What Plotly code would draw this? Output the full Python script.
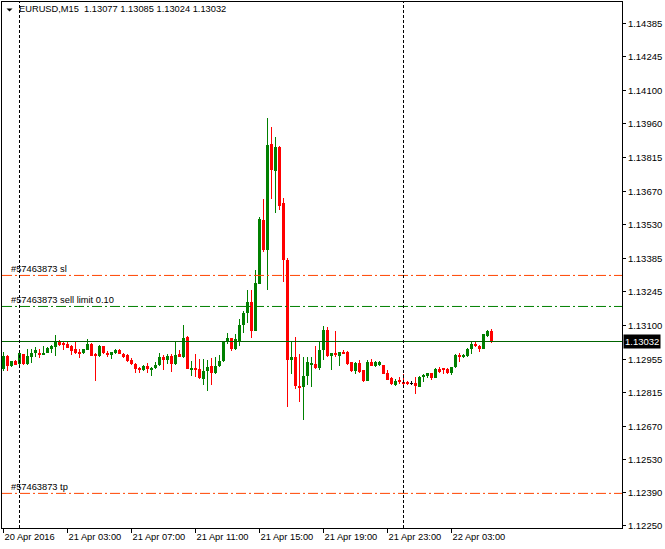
import numpy as np
import pandas as pd
import plotly.graph_objects as go

# ---------------- data (EURUSD, M15) ----------------
symbol_title = "EURUSD,M15"
start_time = "2016-04-20 23:00"

opens = [1.12916, 1.12972, 1.12927, 1.12951, 1.12935, 1.12977, 1.12935, 1.12968, 1.12982, 1.12985,
         1.12978, 1.12982, 1.13004, 1.13008, 1.13036, 1.13023, 1.13023, 1.13012, 1.12998, 1.12985,
         1.12981, 1.12995, 1.13023, 1.12977, 1.12969, 1.13011, 1.12985, 1.12974, 1.12982, 1.12995,
         1.12978, 1.12974, 1.12952, 1.12938, 1.12918, 1.12910, 1.12926, 1.12914, 1.12918, 1.12930,
         1.12964, 1.12952, 1.12969, 1.12935, 1.12977, 1.12965, 1.13050, 1.12913, 1.12920, 1.12917,
         1.12873, 1.12906, 1.12926, 1.12896, 1.12927, 1.12947, 1.13029, 1.13045, 1.13002, 1.13036,
         1.13104, 1.13154, 1.13202, 1.13076, 1.13276, 1.13547, 1.13420, 1.13874, 1.13756, 1.13861,
         1.13619, 1.13377, 1.12952, 1.12968, 1.12842, 1.12838, 1.12884, 1.12935, 1.12938, 1.12921,
         1.12994, 1.13079, 1.12969, 1.12980, 1.12969, 1.12989, 1.12989, 1.12944, 1.12906, 1.12941,
         1.12909, 1.12866, 1.12943, 1.12927, 1.12930, 1.12930, 1.12897, 1.12875, 1.12848, 1.12870,
         1.12858, 1.12858, 1.12852, 1.12855, 1.12839, 1.12884, 1.12884, 1.12897, 1.12878, 1.12917,
         1.12918, 1.12914, 1.12896, 1.12923, 1.12974, 1.12965, 1.12969, 1.12999, 1.13023, 1.13015,
         1.12999, 1.13055, 1.13077]

highs = [1.12989, 1.12974, 1.12951, 1.12953, 1.12985, 1.12978, 1.13001, 1.13002, 1.13008, 1.12998,
         1.13014, 1.13009, 1.13019, 1.13058, 1.13039, 1.13029, 1.13033, 1.13019, 1.13028, 1.13002,
         1.13002, 1.13041, 1.13026, 1.12984, 1.13016, 1.13011, 1.12991, 1.12989, 1.12998, 1.12998,
         1.12985, 1.12980, 1.12961, 1.12941, 1.12923, 1.12934, 1.12941, 1.12923, 1.12946, 1.12981,
         1.12975, 1.12980, 1.12977, 1.13036, 1.12995, 1.13103, 1.13055, 1.12951, 1.12977, 1.12958,
         1.12957, 1.12954, 1.12960, 1.12964, 1.12975, 1.13033, 1.13069, 1.13046, 1.13065, 1.13127,
         1.13161, 1.13249, 1.13253, 1.13338, 1.13561, 1.13636, 1.13982, 1.13946, 1.13900, 1.13863,
         1.13644, 1.13389, 1.13032, 1.13053, 1.12977, 1.12967, 1.12968, 1.12968, 1.13011, 1.13031,
         1.13100, 1.13092, 1.12981, 1.13075, 1.12989, 1.12994, 1.12992, 1.12944, 1.12944, 1.12954,
         1.12912, 1.12954, 1.12958, 1.12947, 1.12951, 1.12933, 1.12912, 1.12880, 1.12873, 1.12880,
         1.12895, 1.12862, 1.12862, 1.12879, 1.12886, 1.12892, 1.12897, 1.12900, 1.12921, 1.12923,
         1.12921, 1.12918, 1.12923, 1.12980, 1.12981, 1.12977, 1.13005, 1.13028, 1.13028, 1.13019,
         1.13066, 1.13080, 1.13085]

lows = [1.12906, 1.12906, 1.12923, 1.12931, 1.12933, 1.12931, 1.12931, 1.12940, 1.12965, 1.12961,
        1.12978, 1.12982, 1.12985, 1.12969, 1.13012, 1.12997, 1.13006, 1.12974, 1.12978, 1.12961,
        1.12978, 1.12994, 1.12969, 1.12863, 1.12968, 1.12978, 1.12968, 1.12957, 1.12980, 1.12977,
        1.12963, 1.12946, 1.12933, 1.12900, 1.12899, 1.12906, 1.12899, 1.12884, 1.12916, 1.12927,
        1.12909, 1.12937, 1.12901, 1.12934, 1.12964, 1.12963, 1.12916, 1.12884, 1.12880, 1.12872,
        1.12845, 1.12822, 1.12848, 1.12893, 1.12924, 1.12944, 1.13022, 1.12991, 1.12997, 1.13012,
        1.13069, 1.13110, 1.13046, 1.13076, 1.13276, 1.13412, 1.13250, 1.13636, 1.13578, 1.13593,
        1.13284, 1.12753, 1.12893, 1.12829, 1.12774, 1.12699, 1.12849, 1.12838, 1.12917, 1.12912,
        1.12952, 1.12965, 1.12912, 1.12965, 1.12927, 1.12977, 1.12934, 1.12901, 1.12895, 1.12897,
        1.12858, 1.12866, 1.12926, 1.12923, 1.12926, 1.12892, 1.12869, 1.12848, 1.12844, 1.12850,
        1.12833, 1.12848, 1.12846, 1.12807, 1.12838, 1.12858, 1.12875, 1.12870, 1.12876, 1.12897,
        1.12895, 1.12892, 1.12890, 1.12920, 1.12944, 1.12963, 1.12968, 1.12980, 1.13009, 1.12986,
        1.12998, 1.13052, 1.13024]

closes = [1.12972, 1.12927, 1.12951, 1.12931, 1.12981, 1.12935, 1.12969, 1.12985, 1.12994, 1.12978,
          1.12985, 1.13005, 1.13012, 1.13036, 1.13019, 1.13021, 1.13006, 1.12992, 1.12981, 1.12981,
          1.12999, 1.13023, 1.12969, 1.12974, 1.13012, 1.12981, 1.12974, 1.12986, 1.12995, 1.12980,
          1.12965, 1.12948, 1.12935, 1.12914, 1.12909, 1.12926, 1.12913, 1.12920, 1.12934, 1.12968,
          1.12952, 1.12969, 1.12935, 1.12975, 1.12968, 1.13048, 1.12917, 1.12920, 1.12913, 1.12875,
          1.12907, 1.12924, 1.12896, 1.12929, 1.12950, 1.13031, 1.13046, 1.12999, 1.13041, 1.13104,
          1.13155, 1.13202, 1.13076, 1.13279, 1.13551, 1.13423, 1.13866, 1.13761, 1.13861, 1.13610,
          1.13378, 1.12952, 1.12968, 1.12842, 1.12838, 1.12884, 1.12943, 1.12938, 1.12921, 1.12994,
          1.13079, 1.12969, 1.12981, 1.12977, 1.12989, 1.12981, 1.12938, 1.12906, 1.12941, 1.12901,
          1.12866, 1.12944, 1.12927, 1.12944, 1.12946, 1.12895, 1.12870, 1.12852, 1.12866, 1.12861,
          1.12853, 1.12852, 1.12852, 1.12841, 1.12883, 1.12890, 1.12896, 1.12878, 1.12916, 1.12903,
          1.12912, 1.12896, 1.12923, 1.12974, 1.12965, 1.12974, 1.13002, 1.13023, 1.13012, 1.12999,
          1.13062, 1.13078, 1.13032]

# order levels
order_id = "#57463873"
sl_level = 1.13313
sell_limit_level = 1.13181
sell_limit_lots = "0.10"
tp_level = 1.12386
bid_price = 1.13032

# axis ticks
y_tick_labels = ["1.12250", "1.12390", "1.12530", "1.12670", "1.12815", "1.12955", "1.13100", "1.13245",
                 "1.13385", "1.13530", "1.13670", "1.13815", "1.13960", "1.14100", "1.14245", "1.14385"]
x_tick_times = ["2016-04-20 23:00", "2016-04-21 03:00", "2016-04-21 07:00", "2016-04-21 11:00",
                "2016-04-21 15:00", "2016-04-21 19:00", "2016-04-21 23:00", "2016-04-22 03:00"]
x_tick_labels = ["20 Apr 2016", "21 Apr 03:00", "21 Apr 07:00", "21 Apr 11:00",
                 "21 Apr 15:00", "21 Apr 19:00", "21 Apr 23:00", "22 Apr 03:00"]
day_separators = ["2016-04-21 00:00", "2016-04-22 00:00"]

# ---------------- figure ----------------
o = np.array(opens); h = np.array(highs); l = np.array(lows); c = np.array(closes)
times = pd.date_range(start_time, periods=len(opens), freq="15min")
bar_ms = 15 * 60 * 1000

GREEN = "#008000"
RED = "#ff0000"
BLACK = "#000000"
FONT = "Liberation Sans"
FS = 9.3

W, H = 665, 549
ML, MR, MT, MB = 2, 43, 2, 21
PW, PH = W - ML - MR, H - MT - MB

fig = go.Figure()
groups = [(c > o, GREEN), (c < o, RED), (c == o, BLACK)]
for mask, col in groups:
    if not mask.any():
        continue
    t = times[mask]
    fig.add_trace(go.Bar(x=t, base=l[mask], y=(h - l)[mask], width=0.225 * bar_ms,
                         marker=dict(color=col, line=dict(width=0)), hoverinfo="skip"))
    fig.add_trace(go.Bar(x=t, base=np.minimum(o, c)[mask],
                         y=np.maximum(np.abs(c - o), 1e-5)[mask], width=0.725 * bar_ms,
                         marker=dict(color=col, line=dict(width=0)), hoverinfo="skip"))

t0 = pd.Timestamp(start_time)
x_range = [t0 - pd.Timedelta(minutes=15 * 0.375), t0 + pd.Timedelta(minutes=15 * (PW / 4 - 0.375))]
y_range = [1.122388, 1.144759]


def px_x(px):
    return (px - ML) / PW


def px_y(py):
    return 1 - (py - MT) / PH


shapes = []
# bid line
shapes.append(dict(type="line", xref="paper", x0=0, x1=1, yref="y", y0=bid_price, y1=bid_price,
                   line=dict(color="#006400", width=1)))
# order lines
for lvl, col in [(sl_level, "#ff4500"), (sell_limit_level, "#008000"), (tp_level, "#ff4500")]:
    shapes.append(dict(type="line", xref="paper", x0=0, x1=1, yref="y", y0=lvl, y1=lvl,
                       line=dict(color=col, width=1, dash="10px,3px,2px,3px")))
# day separators
for ts in day_separators:
    shapes.append(dict(type="line", xref="x", x0=ts, x1=ts, yref="paper", y0=0, y1=1,
                       line=dict(color="black", width=1, dash="3px,2px")))
# header triangle
shapes.append(dict(type="path", xref="paper", yref="paper",
                   path=f"M {px_x(6.5)},{px_y(8.5)} L {px_x(12.5)},{px_y(8.5)} L {px_x(9.5)},{px_y(11.5)} Z",
                   fillcolor="black", line=dict(width=0)))

annotations = []
annotations.append(dict(xref="paper", yref="paper", x=px_x(18), y=px_y(9.5), xanchor="left", yanchor="middle",
                        text=f"{symbol_title}\u00a0\u00a0{opens[-1]:.5f} {highs[-1]:.5f} {lows[-1]:.5f} {closes[-1]:.5f}",
                        showarrow=False, borderpad=0, font=dict(family=FONT, size=FS, color="black")))
for lvl, txt in [(sl_level, f"{order_id} sl"), (sell_limit_level, f"{order_id} sell limit {sell_limit_lots}"),
                 (tp_level, f"{order_id} tp")]:
    annotations.append(dict(xref="paper", yref="y", x=px_x(10), y=lvl, xanchor="left", yanchor="bottom",
                            text=txt, showarrow=False, borderpad=0, yshift=0,
                            font=dict(family=FONT, size=FS, color="black")))
annotations.append(dict(xref="paper", yref="y", x=1, y=bid_price, xanchor="left", yanchor="middle",
                        text=f"{bid_price:.5f}", showarrow=False, bgcolor="black", borderpad=1, xshift=1,
                        font=dict(family=FONT, size=9.5, color="white")))

fig.update_layout(
    width=W, height=H, margin=dict(l=ML, r=MR, t=MT, b=MB, pad=0),
    paper_bgcolor="white", plot_bgcolor="white", barmode="overlay", bargap=0,
    showlegend=False, hovermode=False,
    font=dict(family=FONT, size=FS, color="black"),
    shapes=shapes, annotations=annotations,
)
fig.update_xaxes(type="date", range=x_range, showgrid=False, zeroline=False,
                 showline=True, linecolor="black", linewidth=1, mirror=True,
                 ticks="outside", ticklen=4, tickcolor="black", tickwidth=1,
                 tickmode="array", tickvals=x_tick_times, ticktext=x_tick_labels,
                 ticklabelposition="outside right", tickfont=dict(family=FONT, size=FS, color="black"))
fig.update_yaxes(side="right", range=y_range, showgrid=False, zeroline=False,
                 showline=True, linecolor="black", linewidth=1, mirror=True,
                 ticks="outside", ticklen=3, tickcolor="black", tickwidth=1,
                 tickmode="array", tickvals=[float(v) for v in y_tick_labels], ticktext=y_tick_labels,
                 tickfont=dict(family=FONT, size=9.5, color="black"))

fig.write_html("out.html", config={"displayModeBar": False},
               post_script="document.body.style.margin='0';document.body.style.overflow='hidden';")
